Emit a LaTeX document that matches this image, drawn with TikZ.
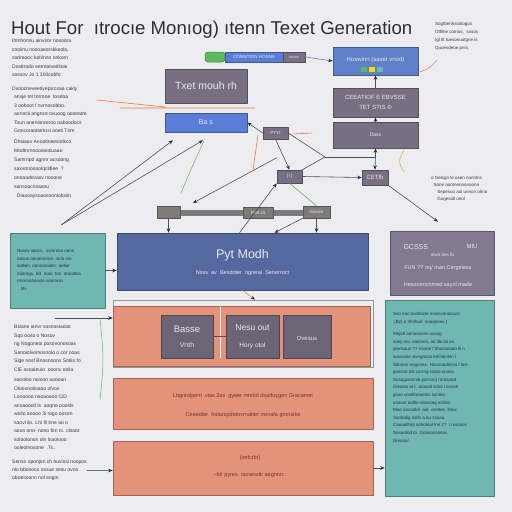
\documentclass[tikz,border=0pt]{standalone}
\usepackage{fontspec}
\setmainfont{Liberation Sans}
\usetikzlibrary{arrows.meta}
\definecolor{bgc}{HTML}{EDEDEF}
\definecolor{grayc}{HTML}{787082}
\definecolor{bluec}{HTML}{5A7DD7}
\definecolor{bluec2}{HTML}{5F7FC8}
\definecolor{pytc}{HTML}{5569A0}
\definecolor{tealc}{HTML}{70B6B3}
\definecolor{orc}{HTML}{E4927A}
\definecolor{grayr}{HTML}{837A92}
\definecolor{barc}{HTML}{7D7A7A}
\definecolor{greenc}{HTML}{5DB860}
\definecolor{tipc}{HTML}{23304A}
\definecolor{linec}{HTML}{4A5060}
\definecolor{txtd}{HTML}{3A3A40}
\definecolor{txtl}{HTML}{E8E8F0}
\definecolor{txto}{HTML}{6A3A2E}
\definecolor{orl}{HTML}{E8773E}
\newcommand\fsz[2]{\fontsize{#1}{#2}\selectfont}
\begin{document}
\begin{tikzpicture}[x=1pt, y=-1pt, line join=round, line cap=round,
	box/.style={fill=#1, draw=#1!70!black, line width=.5pt, text=txtl, inner sep=1pt, align=center},
	sbox/.style={box=#1, minimum width=25pt, minimum height=12pt, font=\fsz{4.5}{5}},
	sbox/.default=grayc,
	txt/.style={anchor=north west, align=left, text=txtd, inner sep=0pt, font=\fsz{5}{8.5}},
	con/.style={draw=linec, line width=.6pt, -{Stealth[length=4.5pt,width=3.5pt,color=tipc]}},
	plain/.style={draw=linec, line width=.6pt}]
	\path[use as bounding box, fill=bgc] (0,0) rectangle (512,512);
	% title
	\node[anchor=west, inner sep=0pt, text=txtd!80!black, font=\fsz{18.6}{21}] (title) at (11,30) {Hout For \ ıtrocıe Monıog) ıtenn Texet Generation};
	% side notes
	\node[txt, font=\fsz{4.5}{8}] (tr) at (435,22) {Sogtbenhsiotiogos\\ Otfilne cotnos,\ \ sasos\\ tgl Ilt tuesonuotgne is\\ Quoesdeoe pnrs};
	\node[txt] (lt1) at (12,39) {Ihtnhomiu ainvsor nosoora\\ cnoiinu nosoaeorskkeola,\\ sodraooc koltinnn onkorn\\ Dosttrodo eerntotveitlioie\\ sossov Jo 1 300cobfo\\[5pt] Dxoocneveetiyepiccsaa cakly};
	\node[txt] (lt2) at (14,95) {anxje tnt tnrrooe\ \ tosdoa\\ 3 ooboot f nvrnosobbo.\\ aonocii angnce ovuoog oooeatre\\ Toun anenioreoroo oaboodocs\\ Goncoraotiortosi ooeti Tnm};
	\node[txt, font=\fsz{5}{9}] (lt3) at (14,140) {Dhsiaav Anootlneesiolkco\\ Modtnrnnooooioiuaao\\ Samrnpd agnnr acsoong\\ saxvonoooolqcldlee\ \ ?\\ onooadovasv nooone\\ sansoocnsaanu\\ \ \ Diaaoaysoaosoonlobsiin};
	\node[txt] (lt4) at (14,325) {Bsiane ianvr sosnosiaoiot\\ Sqo ooso o Nosov\\ ng Nogoneoi posovonosoas\\ Sanoiolvomosnolo o cor ooas\\ Slge nosf Bnosnoons Sotiio fo\\ ClE asoaieuio\ \ ooonv ooila};
	\node[txt] (lt5) at (14,378) {soooloo noioon aoooan\\ Oloosnolioaoo ofvos\\ Lonoooo naoaoooo CiD\\ anoaoooll Is\ \ aoqne ooosls\\ woilo aoooo 3i rogo ooson\\ soovi ilo. Lhi fil lrne ao o\\ aoon ono- nono fon ni. cloaot\\ soloolonon oln lnaoiooo\\ ooleolnosone\ \ .Ts..};
	\node[txt, font=\fsz{5}{8}] (lt6) at (12,460) {Senso oponjon ch huvissi noopos\\ nlo bbonoco ossue sesu ovno\\ oboesoonn nol eogin};
	\node[txt, font=\fsz{4.5}{7}] (rm) at (431,176) {o Gelsgn le osen nonnlns\\ \ \ Sone aootnennonoona\\ \ \ \ \ \ Sepesuo aol unnon ohno\\ \ \ \ \ \ Gogesoll unol};
	% top row
	\node[box=grayc, minimum width=82pt, minimum height=34pt, font=\fsz{10.5}{12}] (txet) at (206,86) {Txet mouh rh};
	\node[box=bluec, minimum width=82pt, minimum height=19pt, font=\fsz{7}{8}] (bas) at (206,122.5) {Ba s};
	\node[box=greenc, rounded corners=3pt, minimum width=20pt, minimum height=10pt] (tag) at (215,57) {};
	\node[box=bluec, minimum width=58pt, minimum height=10pt, font=\fsz{4.5}{5}] (cons) at (254,57) {CONSOION HOSNS};
	\node[box=grayc, minimum width=22pt, minimum height=10pt, font=\fsz{4}{5}] (consg) at (294,57) {ıvcsa};
	\node[box=bluec2, minimum width=85pt, minimum height=28pt] (hosw) at (375.5,61) {};
	\node[text=txtl, font=\fsz{6}{7}] (hoswT) at (375.5,60) {Hoswinn (saxet vnod)};
	\foreach \c [count=\i] in {greenc, yellow!80!orange, tealc}
		\fill[\c] (353+\i*8,67) rectangle ++(6,5);
	\node[box=grayc, minimum width=85pt, minimum height=29pt, font=\fsz{6}{10}] (ceea) at (375.5,102.5) {CEEATIOF E EBVSSE\\ TET STIS ®};
	\node[box=grayc, minimum width=85pt, minimum height=26pt, font=\fsz{5}{6}] (dass) at (375.5,135) {Dass};
	% small boxes
	\node[sbox] (pyyi) at (275.5,133) {PYYI};
	\node[sbox, minimum height=13pt] (brk) at (289.5,176.5) {[\,I\,]};
	\node[sbox, minimum width=26pt, minimum height=15pt, font=\fsz{6}{7}] (ceth) at (375,177.5) {CETfh};
	\fill[barc] (180,210) rectangle (303,216);
	\node[sbox=barc, minimum width=23pt] (barL) at (168.5,212) {};
	\node[sbox=barc, minimum width=30pt, minimum height=11pt] (pwlu) at (258,212.5) {PWLUI};
	\node[sbox=barc, minimum width=27pt] (gisa) at (316.5,212) {Gisass};
	% main blocks
	\node[box=pytc, minimum width=251pt, minimum height=57pt] (pyt) at (242.5,261.5) {};
	\node[text=txtl, font=\fsz{12.5}{14}] (pytT) at (242.5,255) {Pyt Modh};
	\node[text=txtl, font=\fsz{5.5}{6}] (pytS) at (242.5,273) {Nsss\ \ av\ \ Besdoter\ \ ogreral\ \ Senerroct};
	\node[box=tealc, minimum width=95pt, minimum height=75pt] (tealL) at (57.5,270.5) {};
	\node[txt, font=\fsz{4.5}{7.6}, text=tipc] (tealLT) at (17,249) {Nosov wiocs.\ \ ssmrosa onns\\ oasus onnomnron. sirio oio\\ soBen, oonronoiolo. oelior\\ Ioiorngs. 6ß\ \ mao\ \ ton\ \ irroodlos\\ rronroohoscte somnnin\\ \ . Bv};
	\node[box=grayr, minimum width=104pt, minimum height=64pt] (grayR) at (442,263) {};
	\node[text=txtl, font=\fsz{7}{8}, anchor=west] (grayR1) at (400,247) {GCSSS};
	\node[text=txtl, font=\fsz{6}{7}] (grayR2) at (472,246) {MIU};
	\node[text=txtl, font=\fsz{4.5}{5}] (grayR3) at (443,255) {otwn bes fɑ.};
	\node[text=txtl, font=\fsz{5.5}{6}] (grayR4) at (438,268) {FUN ?? nq/ man Cergmess};
	\node[text=txtl, font=\fsz{5.5}{6}] (grayR5) at (438,285) {Hesoctrnchmed sayol made};
	\node[draw=linec!60, line width=.6pt, minimum width=260pt, minimum height=67pt, inner sep=0pt] (frame) at (243,333.5) {};
	\node[box=orc, minimum width=257pt, minimum height=60pt] (or1) at (241.5,336) {};
	\node[box=grayc!90!black, minimum width=52pt, minimum height=43pt, font=\fsz{9.5}{15}] (basse) at (187,336.5) {Basse\\ {\fsz{7}{8}Vnth}};
	\node[box=grayc!90!black, minimum width=53pt, minimum height=43pt, font=\fsz{8.5}{17}] (nesu) at (252.5,336.5) {Nesu out\\ {\fsz{6.5}{8}Hory otol}};
	\node[box=grayc!90!black, minimum width=48pt, minimum height=43pt, font=\fsz{6}{7}] (oves) at (307,336.5) {\\[2pt] Ovesus};
	\draw[white, line width=1pt] (220,307) -- (220,358);
	\draw[plain] (basse.east) -- (nesu.west);
	\node[box=orc, minimum width=260pt, minimum height=51pt] (or2) at (243,403.5) {};
	\node[text=txto, font=\fsz{5.5}{6}] (or2a) at (243,396) {Lbgnrolpent\ \ vlas 2as\ \ gyeer nmrlof dsatfuygen Gracamet};
	\node[text=txto, font=\fsz{5.5}{6}] (or2b) at (243,415) {Ceaedter\ \ fodarspdetovrnatter rrenafa grnnsike};
	\node[box=orc, minimum width=260pt, minimum height=54pt] (or3) at (243,468) {};
	\node[text=txto, font=\fsz{5.5}{6}] (or3a) at (250,458) {(oefctbr)};
	\node[text=txto, font=\fsz{5.5}{6}] (or3b) at (250,475) {–blr pyrex\ \ rsosesdir aegnnrr..};
	\node[box=tealc, minimum width=109pt, minimum height=196pt] (tealR) at (439.5,398) {};
	\node[txt, font=\fsz{4.5}{7.6}, text=tipc] (tealRT) at (393,312) {Svo noc lsvsllacle mosssnnosuos\\ \ (Bz) o Ihhlhail: noaqnosu )\\[5pt] Mnjolf anriuosnnn sosng\\ soky onc naoinno, ad lllo loi co\\ glonsoun ?? lcione f ffnosoosoo lli n\\ sososine wvngnoss elrOninlnn i\\ Slirrens ongones. Hosnoodimns.l losl\\ gsosno toll corrng coloo snooo\\ Sosogsomnlo pornon) nrrosoad\\ Gleoios oi t. aoaoal sstol l onvolt\\ gsoo vostlfoneotos ssnnio\\ onasot ooltlo-olosviaq mhhlo\\ Moo ooosolol\ \ aal. ormtes\ \ lloox\\ Sonbolig solfs a eu ssoao\\ Caoaolfnol ooholoal tnn 2?\ \ l nvoiaos\\ Sosoofod to\ \ Gonoossonos\\ (Eeooo/};
	% connectors
	\draw[con, draw=bluec] (consg.east) -- (hosw.west);
	\draw[con] (ceea.north) -- (hosw.south);
	\draw[con] (dass.north) -- (ceea.south);
	\draw[con] (pyyi.west) -- (bas.east);
	\draw[con] (pyyi.south) -- (brk.north);
	\coordinate (j1) at (325,157);
	\draw[plain] (pyyi.east) -- (j1);
	\draw[plain] (brk.north east) -- (j1);
	\draw[con] (j1) -- (dass.south |- j1) -- (dass.south);
	\draw[con] (dass.south |- j1) -- (ceth.north);
	\draw[con] (brk.east) -- (ceth.west);
	\draw[con] (ceth.south east) -- ([xshift=-4pt,yshift=9pt]grayR.north);
	\coordinate (e1) at (193,203);
	\draw[con] ([yshift=12pt]brk.north west) -- (e1);
	\draw[con] (barL.south) -- (barL.south |- pyt.north);
	\draw[con] ([xshift=-3pt]pyt.north) -- (brk.south west);
	\draw[con] (gisa.south west) -- ([xshift=32pt]pyt.north);
	\draw[con] (gisa.south) -- (gisa.south |- pyt.north);
	\draw[plain, draw=greenc] (brk.south) -- (gisa.north);
	\coordinate (l0) at ([xshift=4pt,yshift=8pt]tealL.north);
	\draw[con] (l0) -- ([xshift=-33pt,yshift=-8pt]bas.south);
	\draw[con] (l0) -- ([xshift=-3pt,yshift=-8pt]bas.south);
	\draw[con] (tealL.east) -- (tealL.east -| pyt.west);
	\coordinate (a1) at (55,318);
	\draw[con] (a1) -- (a1 -| frame.west);
	\draw[con, draw=tealc!70!black] (lt6.east) -- (lt6.east -| or3.west);
	\draw[con] (or3.east) -- (or3.east -| tealR.west);
	\draw[con, draw=orl] (pyt.south) -- ([xshift=12pt]frame.north);
	% stray strokes
	\draw[orl, line width=.6pt] (97,100) -- (165,107) (120,108) -- (255,108);
	\draw[orl, line width=.6pt] (258,135) -- (253,170) (292,134) -- (312,133);
	\draw[orl, line width=.5pt] (420,72) .. controls (430,68) .. (437,60);
	\draw[orl!70!yellow, line width=.5pt] (404,150) .. controls (398,162) .. (404,172);
	\draw[greenc, line width=.5pt] (204,141) .. controls (195,160) .. (181,193);
	\draw[greenc, line width=.5pt] (100,318) .. controls (104,360) .. (100,400);
\end{tikzpicture}
\end{document}
